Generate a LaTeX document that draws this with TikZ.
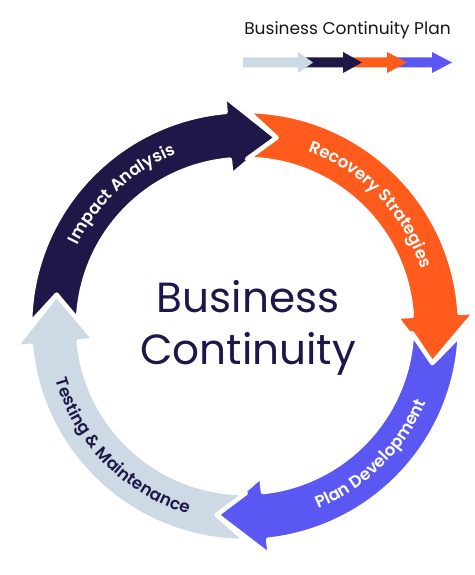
\documentclass[tikz,border=0pt]{standalone}
\usepackage{fontspec}
\setmainfont{Poppins}
\newfontfamily\ringfont{Poppins SemiBold}
\usetikzlibrary{decorations.text}

\definecolor{bcnavy}{HTML}{1E1748}
\definecolor{bcorange}{HTML}{FE5B1C}
\definecolor{bcblue}{HTML}{5B57F2}
\definecolor{bcgray}{HTML}{CDD9E4}
\definecolor{bctitle}{HTML}{161616}

\newcommand{\arclabel}{\ringfont\fontsize{9.5}{9.5}\selectfont}

\tikzset{
    ringarrow/.style={draw=white, line width=2.6pt, line join=round},
    ringtext/.style={decorate, decoration={text along path, text align=center,
        text color=white, text={|\arclabel|#1}}},
}

\begin{document}
\begin{tikzpicture}[x=0.02cm, y=0.02cm]
    \useasboundingbox (0,0) rectangle (474,575);

    % Plan title and small arrows
    \node[anchor=base, text=bctitle, font=\fontsize{9.7}{11}\selectfont] (plantitle) at (347.5,540) {Business Continuity Plan};
    \fill[bcblue] (397,507.5) -- (432,507.5) -- (432,502) -- (452,512.5) -- (432,523) -- (432,517.5) -- (397,517.5) -- cycle;
    \fill[bcorange] (352,507.5) -- (387,507.5) -- (387,502) -- (407,512.5) -- (387,523) -- (387,517.5) -- (352,517.5) -- cycle;
    \fill[bcnavy] (305,507.5) -- (343,507.5) -- (343,502) -- (362,512.5) -- (343,523) -- (343,517.5) -- (305,517.5) -- cycle;
    \fill[bcgray] (243,507.5) -- (298,507.5) -- (298,502) -- (313,512.5) -- (298,523) -- (298,517.5) -- (243,517.5) -- cycle;

    % Cycle arrows
    \begin{scope}[shift={(245,249)}]
        \filldraw[fill=bcnavy, ringarrow] (179.4:215) arc[start angle=179.4, end angle=95.2, radius=215]
            -- (95.2:231) -- (80.5:191) -- (95.2:151) -- (95.2:167)
            arc[start angle=95.2, end angle=179.4, radius=167] -- (170.6:191) -- cycle;
        \filldraw[fill=bcorange, ringarrow] (89.3:215) arc[start angle=89.3, end angle=3.5, radius=215]
            -- (3.5:231) -- (-11.2:191) -- (3.5:151) -- (3.5:167)
            arc[start angle=3.5, end angle=89.3, radius=167] -- (80.5:191) -- cycle;
        \filldraw[fill=bcblue, ringarrow] (-2.4:215) arc[start angle=-2.4, end angle=-83.8, radius=215]
            -- (-83.8:231) -- (-98.5:191) -- (-83.8:151) -- (-83.8:167)
            arc[start angle=-83.8, end angle=-2.4, radius=167] -- (-11.2:191) -- cycle;
        \filldraw[fill=bcgray, ringarrow] (270.3:215) arc[start angle=270.3, end angle=185.3, radius=215]
            -- (185.3:231) -- (170.6:191) -- (185.3:151) -- (185.3:167)
            arc[start angle=185.3, end angle=270.3, radius=167] -- (261.5:191) -- cycle;

        % Labels along the ring
        \path[ringtext={Impact Analysis}] (170:185.5) arc[start angle=170, end angle=96, radius=185.5];
        \path[ringtext={Recovery Strategies}] (84:185.5) arc[start angle=84, end angle=4, radius=185.5];
        \path[ringtext={Plan Development}] (-86:196.5) arc[start angle=-86, end angle=-5, radius=196.5];
        \path[ringtext={Testing {\&} Maintenance}, decoration={text color=bcnavy}] (180:196.5) arc[start angle=180, end angle=269, radius=196.5];
    \end{scope}

    % Centre text
    \node[anchor=base, text=bcnavy, font=\fontsize{24}{24}\selectfont] (busword) at (248,262) {Business};
    \node[anchor=base, text=bcnavy, font=\fontsize{24}{24}\selectfont] (contword) at (248,210) {Continuity};
\end{tikzpicture}
\end{document}
